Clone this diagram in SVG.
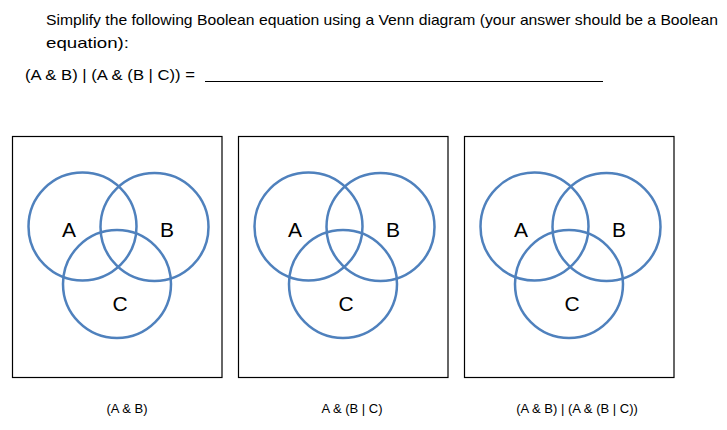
<svg xmlns="http://www.w3.org/2000/svg" width="727" height="430" viewBox="0 0 727 430">
<style>
text{font-family:"Liberation Sans",Arial,sans-serif;font-size:15px;fill:#000}
.box{fill:#fff;stroke:#000;stroke-width:1.2}
.c{fill:none;stroke:#4f81bd;stroke-width:2.5}
.l{font-size:21px;text-anchor:middle}
.cap{font-size:13px;text-anchor:middle}
</style>
<rect width="727" height="430" fill="#fff"/>
<g id="title">
<text x="46" y="25" textLength="672" lengthAdjust="spacingAndGlyphs">Simplify the following Boolean equation using a Venn diagram (your answer should be a Boolean</text>
<text x="46" y="48" textLength="83" lengthAdjust="spacingAndGlyphs">equation):</text>
<text x="25" y="80" font-size="14" textLength="170" lengthAdjust="spacingAndGlyphs">(A &amp; B) | (A &amp; (B | C))  =</text>
<line x1="205" y1="81.5" x2="603" y2="81.5" stroke="#000" stroke-width="1"/>
</g>
<defs>
<g id="venn">
<rect class="box" x="12.5" y="136.5" width="209.5" height="241"/>
<circle class="c" cx="82.5" cy="226.5" r="54"/>
<circle class="c" cx="154.5" cy="227" r="54"/>
<circle class="c" cx="117" cy="284" r="54"/>
<text class="l" x="69" y="237">A</text>
<text class="l" x="167" y="237">B</text>
<text class="l" x="120" y="311">C</text>
</g>
</defs>
<g id="venn1"><use href="#venn"/><text class="cap" x="127" y="413">(A &amp; B)</text></g>
<g id="venn2"><use href="#venn" x="226"/><text class="cap" x="352" y="413">A &amp; (B | C)</text></g>
<g id="venn3"><use href="#venn" x="452"/><text class="cap" x="577" y="413">(A &amp; B) | (A &amp; (B | C))</text></g>
</svg>
